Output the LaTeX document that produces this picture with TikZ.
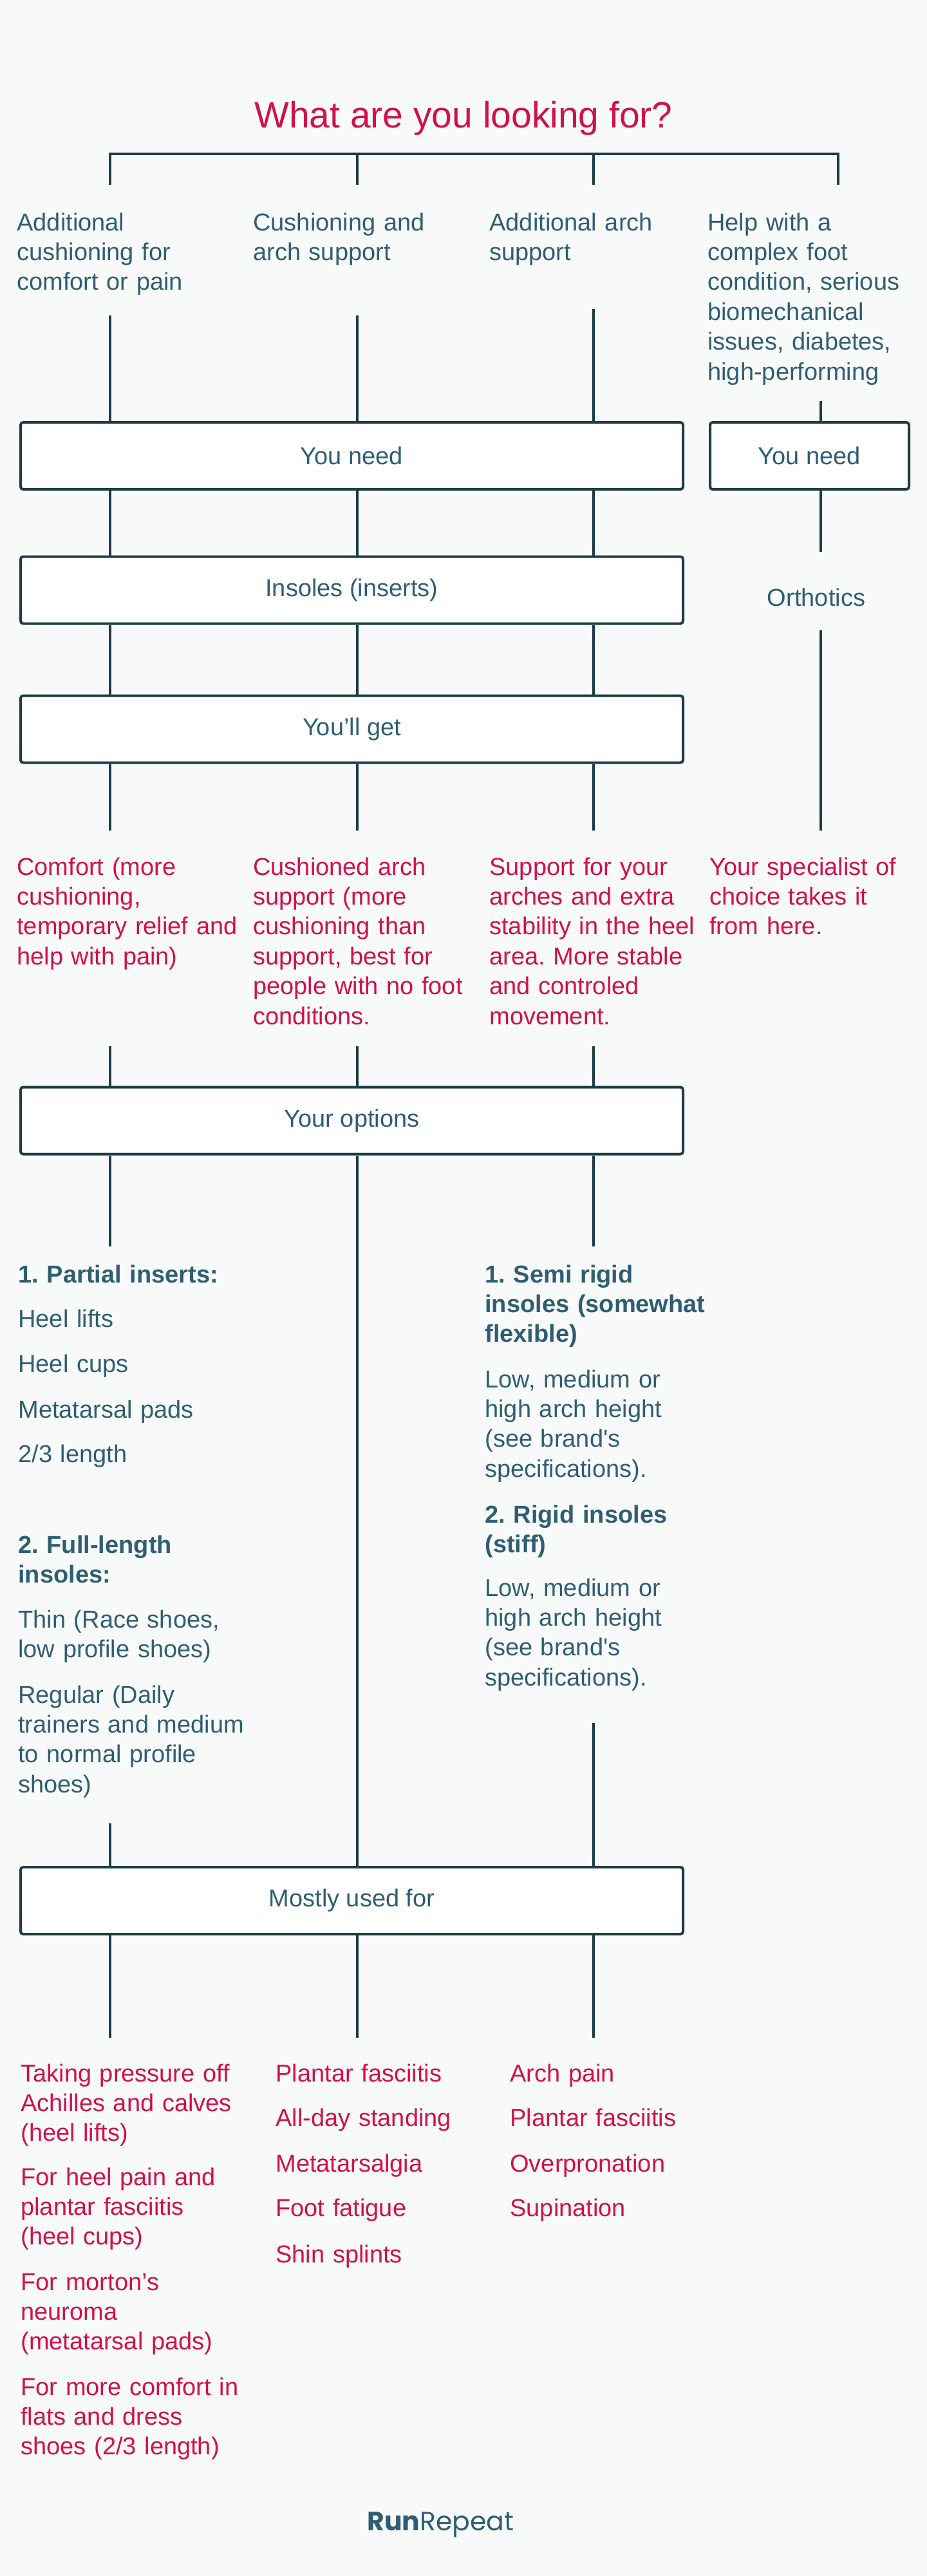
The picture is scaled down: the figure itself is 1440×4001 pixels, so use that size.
\documentclass[tikz,border=0pt]{standalone}
\usepackage{fontspec}
\usepackage{xcolor}
\usepackage{tikz}
\usetikzlibrary{positioning,calc}
\setmainfont{Liberation Sans}
\newfontfamily\logofont{Poppins}
\definecolor{inkline}{HTML}{1F3B46}
\definecolor{inktext}{HTML}{2E5E72}
\definecolor{accent}{HTML}{D0114B}
\definecolor{paper}{HTML}{F8F9F9}
\frenchspacing
\hyphenpenalty=10000
\exhyphenpenalty=10000

\begin{document}
\begin{tikzpicture}[
  x=0.5pt, y=-0.5pt,
  link/.style={draw=inkline, line width=2pt},
  box/.style={draw=inkline, line width=2pt, fill=white, rounded corners=2pt, minimum height=52pt, inner sep=0pt, text=inktext, font=\fontsize{19}{23.2}\selectfont},
  widebox/.style={box, minimum width=514.5pt},
  note/.style={anchor=base west, align=left, text width=215pt, inner sep=0pt, text=inktext, font=\fontsize{19}{23.2}\selectfont},
  hint/.style={note, text=accent},
  pick/.style={note, font=\fontsize{19}{23.2}\selectfont\bfseries}
]
\useasboundingbox (0,0) rectangle (1440,4001);
\fill[paper] (0,0) rectangle (1440,4001);

% question and the four answers
\node[anchor=base, text=accent, font=\fontsize{28.5}{34}\selectfont] (title) at (720,198) {What are you looking for?};
\node[note] (want1) at (26,358) {Additional\\cushioning for\\comfort or pain};
\node[note] (want2) at (393,358) {Cushioning and\\arch support};
\node[note] (want3) at (760,358) {Additional arch\\support};
\node[note] (want4) at (1099,358) {Help with a\\complex foot\\condition, serious\\biomechanical\\issues, diabetes,\\high-performing};

% boxes
\node[widebox] (need) at (546.5,708) {You need};
\node[box, minimum width=154.5pt] (needo) at (1257.5,708) {You need};
\node[widebox] (insole) at (546.5,916.5) {Insoles (inserts)};
\node[text=inktext, font=\fontsize{19}{23.2}\selectfont] (ortho) at (1268,928) {Orthotics};
\node[widebox] (get) at (546.5,1132.5) {You’ll get};

\node[hint] (gain1) at (26,1359) {Comfort (more\\cushioning,\\temporary relief and\\help with pain)};
\node[hint] (gain2) at (393,1359) {Cushioned arch\\support (more\\cushioning than\\support, best for\\people with no foot\\conditions.};
\node[hint] (gain3) at (760,1359) {Support for your\\arches and extra\\stability in the heel\\area. More stable\\and controled\\movement.};
\node[hint] (gain4) at (1102,1359) {Your specialist of\\choice takes it\\from here.};

\node[widebox] (opts) at (546.5,1740.5) {Your options};

% options, left column
\node[pick] (part) at (28,1992) {1. Partial inserts:};
\node[note] (lift) at (28,2061) {Heel lifts};
\node[note] (cup) at (28,2131) {Heel cups};
\node[note] (meta) at (28,2202) {Metatarsal pads};
\node[note] (third) at (28,2271) {2/3 length};
\node[pick] (full) at (28,2412) {2. Full-length\\insoles:};
\node[note] (thin) at (28,2528) {Thin (Race shoes,\\low profile shoes)};
\node[note] (regular) at (28,2645) {Regular (Daily\\trainers and medium\\to normal profile\\shoes)};

% options, right column
\node[pick] (semi) at (753,1992) {1. Semi rigid\\insoles (somewhat\\flexible)};
\node[note] (semih) at (753,2155) {Low, medium or\\high arch height\\(see brand\textquotesingle s\\specifications).};
\node[pick] (rigid) at (753,2365) {2. Rigid insoles\\(stiff)};
\node[note] (rigidh) at (753,2479) {Low, medium or\\high arch height\\(see brand\textquotesingle s\\specifications).};

\node[widebox] (used) at (546.5,2952) {Mostly used for};

\node[hint] (use1a) at (32,3233) {Taking pressure off\\Achilles and calves\\(heel lifts)};
\node[hint] (use1b) at (32,3394) {For heel pain and\\plantar fasciitis\\(heel cups)};
\node[hint] (use1c) at (32,3557) {For morton’s\\neuroma\\(metatarsal pads)};
\node[hint] (use1d) at (32,3720) {For more comfort in\\flats and dress\\shoes (2/3 length)};
\node[hint] (use2a) at (428,3233) {Plantar fasciitis};
\node[hint] (use2b) at (428,3302) {All-day standing};
\node[hint] (use2c) at (428,3373) {Metatarsalgia};
\node[hint] (use2d) at (428,3442) {Foot fatigue};
\node[hint] (use2e) at (428,3514) {Shin splints};
\node[hint] (use3a) at (792,3233) {Arch pain};
\node[hint] (use3b) at (792,3302) {Plantar fasciitis};
\node[hint] (use3c) at (792,3373) {Overpronation};
\node[hint] (use3d) at (792,3442) {Supination};

\node[anchor=base, text=inktext, font=\fontsize{20.5}{24}\logofont] (brand) at (684.5,3930) {{\bfseries Run}Repeat};

% line ends
\coordinate (bar) at (720,239);
\coordinate (fork1) at (171,287);
\coordinate (fork2) at (555,287);
\coordinate (fork3) at (922,287);
\coordinate (fork4) at (1302,287);
\coordinate (from1) at (171,490);
\coordinate (from2) at (555,490);
\coordinate (from3) at (922,480);
\coordinate (from4) at (1275,623);
\coordinate (orthoa) at (1275,857);
\coordinate (orthob) at (1275,979);
\coordinate (orthoc) at (1275,1290);
\coordinate (gety) at (0,1290);
\coordinate (opty) at (0,1625);
\coordinate (picky) at (0,1936);
\coordinate (fullend) at (171,2832);
\coordinate (rigidend) at (922,2676);
\coordinate (usey) at (0,3165);

% connectors
\draw[link] (fork1) |- (bar) -| (fork4);
\draw[link] (fork2) -- (fork2 |- bar);
\draw[link] (fork3) -- (fork3 |- bar);
\draw[link] (from4) -- (from4 |- needo.north);
\draw[link] (needo.south -| from4) -- (orthoa);
\draw[link] (orthob) -- (orthoc);
\foreach \c in {from1,from2,from3} {
  \draw[link] (\c) -- (\c |- need.north);
  \draw[link] (need.south -| \c) -- (insole.north -| \c);
  \draw[link] (insole.south -| \c) -- (get.north -| \c);
  \draw[link] (get.south -| \c) -- (\c |- gety);
  \draw[link] (\c |- opty) -- (opts.north -| \c);
  \draw[link] (used.south -| \c) -- (\c |- usey);
}
\draw[link] (opts.south -| from1) -- (from1 |- picky);
\draw[link] (opts.south -| from3) -- (from3 |- picky);
\draw[link] (opts.south -| from2) -- (used.north -| from2);
\draw[link] (fullend) -- (used.north -| fullend);
\draw[link] (rigidend) -- (used.north -| rigidend);
\end{tikzpicture}
\end{document}
